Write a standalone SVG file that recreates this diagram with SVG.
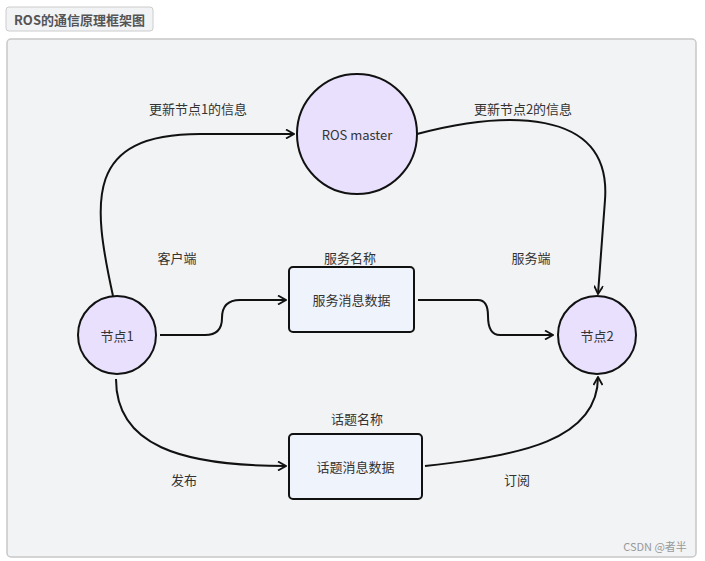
<svg xmlns="http://www.w3.org/2000/svg" width="705" height="561" viewBox="0 0 705 561">
<style>
text{font-family:"Noto Sans CJK SC","Noto Sans",sans-serif;font-size:13px;fill:#333;text-anchor:middle;dominant-baseline:central}
.c{fill:#e8e0fd;stroke:#111;stroke-width:2}
.b{fill:#eff3fc;stroke:#111;stroke-width:2}
.e{fill:none;stroke:#111;stroke-width:2;marker-end:url(#a)}
</style>
<defs><marker id="a" viewBox="0 0 10 10" refX="9" refY="5" markerWidth="10" markerHeight="10" markerUnits="userSpaceOnUse" orient="auto"><path d="M1,0.5 L9,5 L1,9.5" fill="none" stroke="#111" stroke-width="1.8"/></marker></defs>
<rect width="705" height="561" fill="#fff"/>
<g id="title"><rect x="6" y="7" width="147" height="24" rx="3" fill="#f2f3f5" stroke="#ccc"/><text x="79.5" y="19" style="font-weight:bold;fill:#555">ROS的通信原理框架图</text></g>
<rect x="7" y="39" width="689" height="518" rx="4" fill="#f2f3f5" stroke="#c8c8c8" stroke-width="1.5"/>
<g id="connectors">
<path class="e" d="M113,296 C 92,200 85,134 200,134 L294,134"/>
<path class="e" d="M417,134 C 500,112 612,105 605,200 L598,294"/>
<path class="e" d="M160,335 L205,335 Q222,335 222,318 Q222,300 240,300 L286,300"/>
<path class="e" d="M418,300 L478,300 Q488,300 488,316 Q488,335 500,335 L553,335"/>
<path class="e" d="M116,379 C 116,445 180,466 286,466"/>
<path class="e" d="M425,466 C 520,456 598,440 598,377"/>
</g>
<g id="master"><circle class="c" cx="357" cy="134" r="60"/><text x="357" y="134">ROS master</text></g>
<g id="node1"><circle class="c" cx="117" cy="335" r="39"/><text x="117" y="335">节点1</text></g>
<g id="node2"><circle class="c" cx="597" cy="335" r="39"/><text x="597" y="335">节点2</text></g>
<g id="srv"><rect class="b" x="289" y="267" width="125" height="65" rx="4"/><text x="351.5" y="299.5">服务消息数据</text></g>
<g id="topic"><rect class="b" x="289" y="434" width="133" height="65" rx="4"/><text x="355.5" y="466.5">话题消息数据</text></g>
<g id="labels">
<text x="198" y="108">更新节点1的信息</text>
<text x="523" y="108">更新节点2的信息</text>
<text x="177" y="257">客户端</text>
<text x="350" y="257">服务名称</text>
<text x="531" y="257">服务端</text>
<text x="357" y="418">话题名称</text>
<text x="184" y="479">发布</text>
<text x="517" y="479">订阅</text>
<text x="655" y="546" style="font-size:11px;fill:#999">CSDN @者半</text>
</g>
</svg>
